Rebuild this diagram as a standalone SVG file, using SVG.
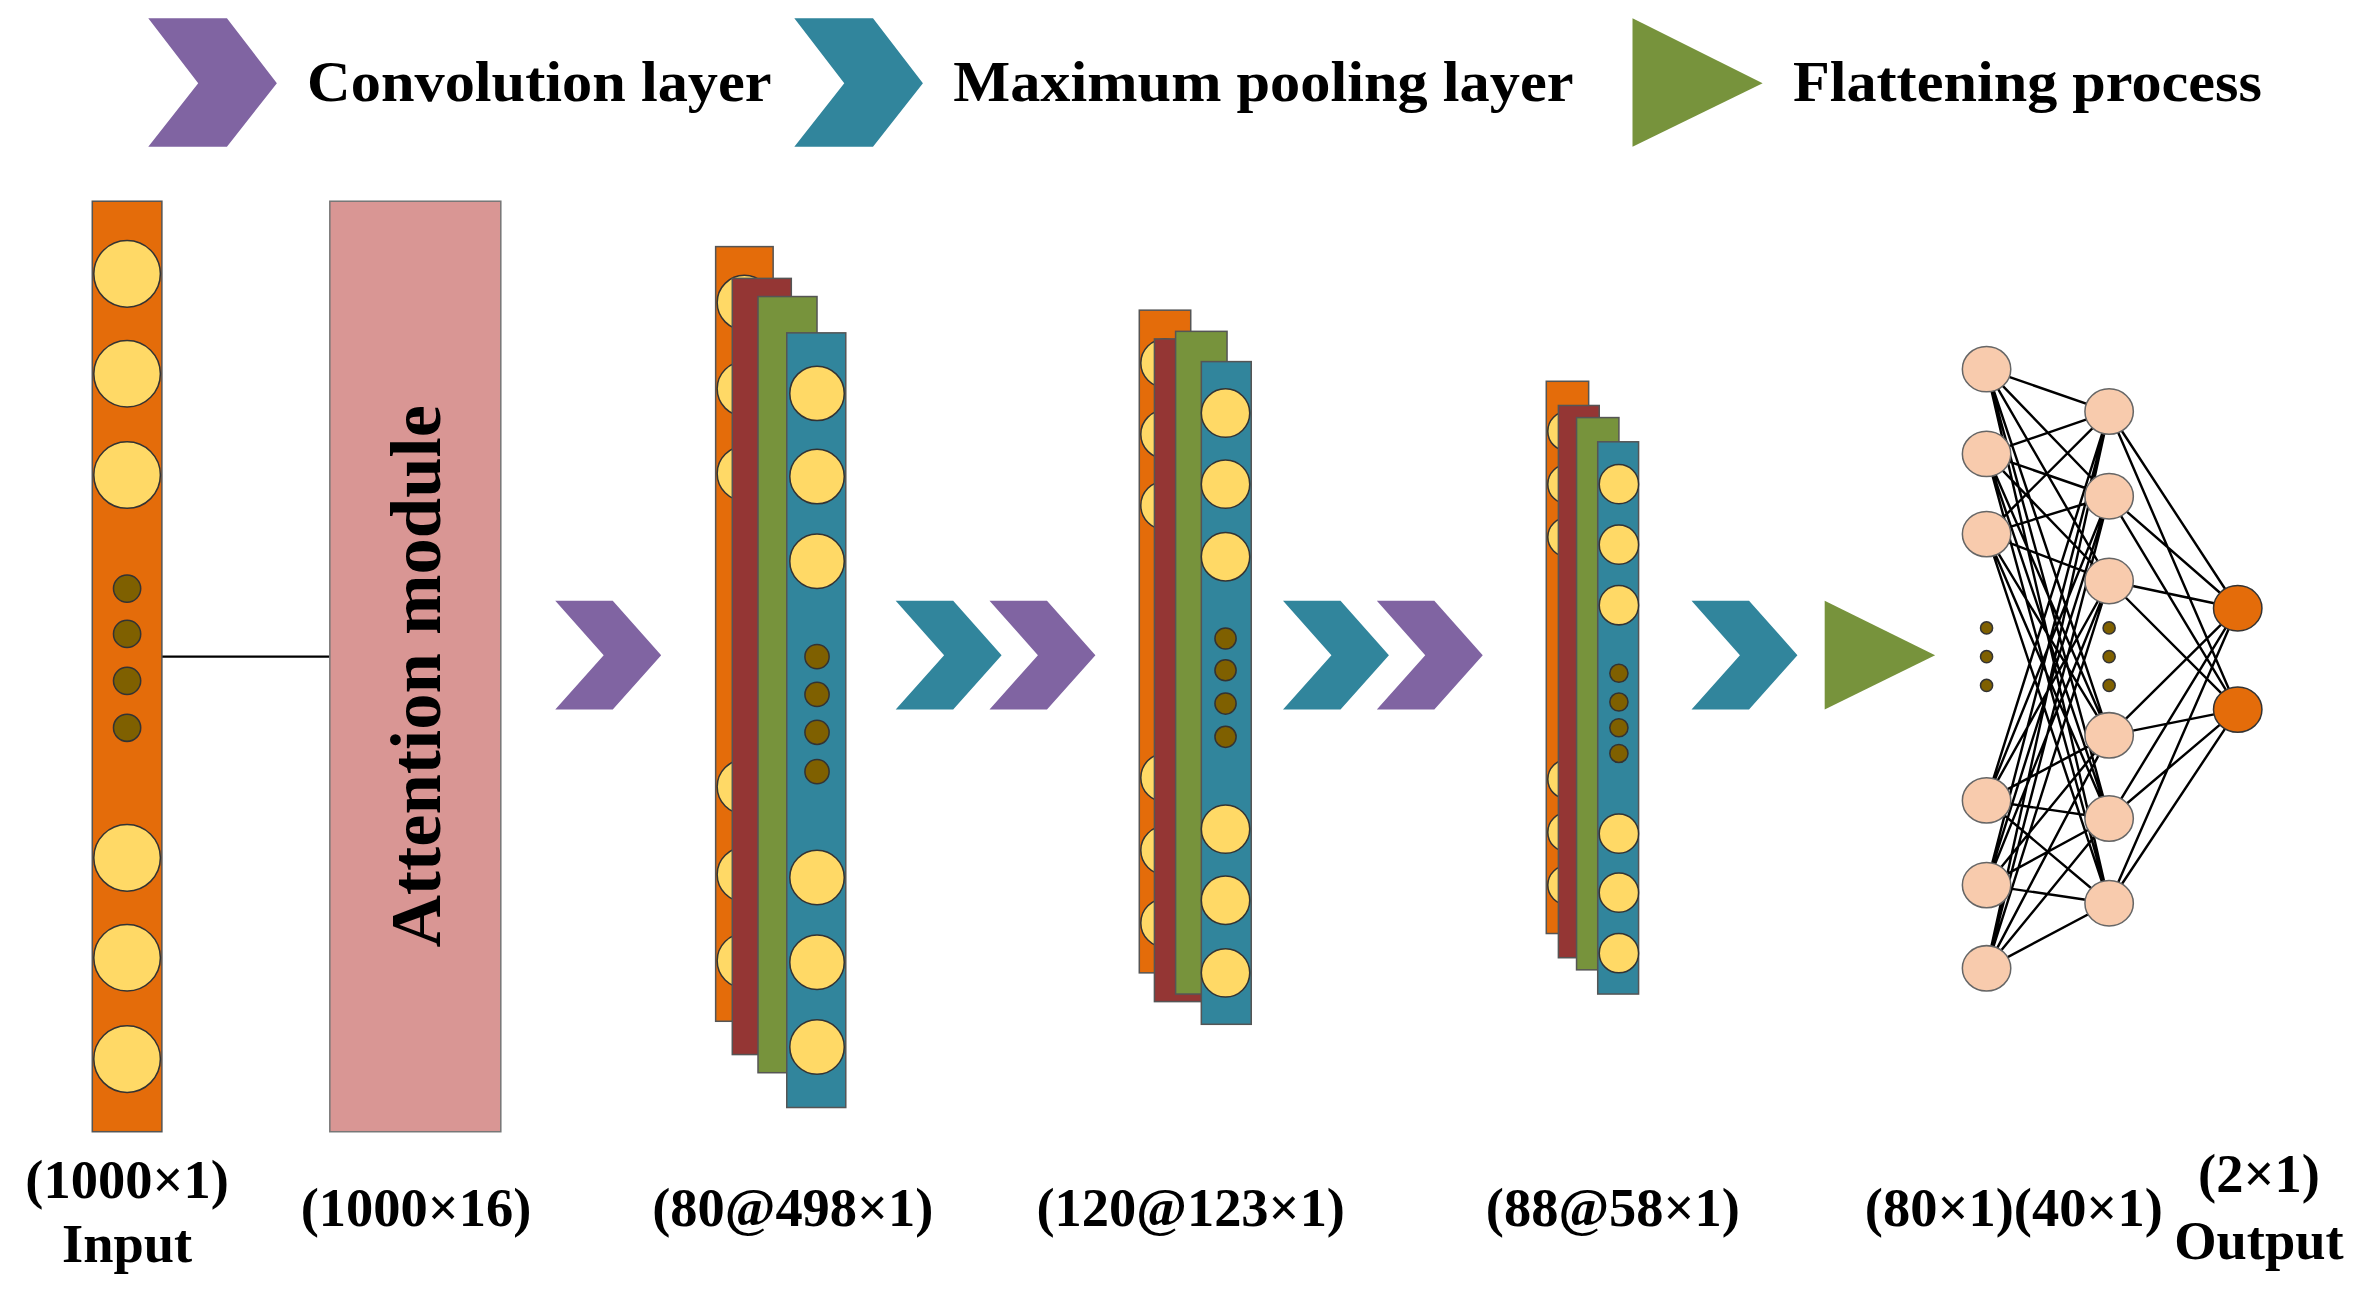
<svg xmlns="http://www.w3.org/2000/svg" width="2372" height="1290" viewBox="0 0 2372 1290">
<style>
.t{font-family:"Liberation Serif","Times New Roman",serif;font-weight:bold;fill:#000}
.lg{font-size:38px}
.lb{font-size:36px;text-anchor:middle}
.y{fill:#FFD966;stroke:#333;stroke-width:1}
.d{fill:#7F6000;stroke:#333;stroke-width:1}
.n{fill:#F8CBAD;stroke:#666;stroke-width:1}
.o{fill:#E46C0A;stroke:#333;stroke-width:1}
.bo{fill:#E46C0A;stroke:#555;stroke-width:1}
.br{fill:#943634;stroke:#555;stroke-width:1}
.bg{fill:#77933C;stroke:#555;stroke-width:1}
.bt{fill:#31859C;stroke:#555;stroke-width:1}
.cp{fill:#8064A2}
.ct{fill:#31859C}
.cg{fill:#77933C}
.w{stroke:#000;stroke-width:1.6}
</style>
<defs>
<path id="chev" d="M0,0 H38 L70,36 L38,72 H0 L32,36 Z"/>
<path id="chevL" d="M0,0 H52 L85,43 L52,85 H0 L33,43 Z"/>
</defs>
<rect width="2372" height="1290" fill="#fff"/>
<g transform="scale(1.513)">
<g id="legend">
<use href="#chevL" x="98" y="12" class="cp"/>
<text class="t lg" x="203" y="67" textLength="307" lengthAdjust="spacingAndGlyphs">Convolution layer</text>
<use href="#chevL" x="525" y="12" class="ct"/>
<text class="t lg" x="630" y="67" textLength="410" lengthAdjust="spacingAndGlyphs">Maximum pooling layer</text>
<polygon class="cg" points="1079,12 1165,55 1079,97"/>
<text class="t lg" x="1185" y="67" textLength="310" lengthAdjust="spacingAndGlyphs">Flattening process</text>
</g>
<g id="connectors">
<line class="w" x1="107" y1="434" x2="218" y2="434"/>
<g id="nn-lines">
<path class="w" fill="none" d="
M1313,244 L1394,272 M1313,244 L1394,328 M1313,244 L1394,384 M1313,244 L1394,486 M1313,244 L1394,541 M1313,244 L1394,597
M1313,300 L1394,272 M1313,300 L1394,328 M1313,300 L1394,384 M1313,300 L1394,486 M1313,300 L1394,541 M1313,300 L1394,597
M1313,353 L1394,272 M1313,353 L1394,328 M1313,353 L1394,384 M1313,353 L1394,486 M1313,353 L1394,541 M1313,353 L1394,597
M1313,529 L1394,272 M1313,529 L1394,328 M1313,529 L1394,384 M1313,529 L1394,486 M1313,529 L1394,541 M1313,529 L1394,597
M1313,585 L1394,272 M1313,585 L1394,328 M1313,585 L1394,384 M1313,585 L1394,486 M1313,585 L1394,541 M1313,585 L1394,597
M1313,640 L1394,272 M1313,640 L1394,328 M1313,640 L1394,384 M1313,640 L1394,486 M1313,640 L1394,541 M1313,640 L1394,597
M1394,272 L1479,402 M1394,328 L1479,402 M1394,384 L1479,402 M1394,486 L1479,402 M1394,541 L1479,402 M1394,597 L1479,402
M1394,272 L1479,469 M1394,328 L1479,469 M1394,384 L1479,469 M1394,486 L1479,469 M1394,541 L1479,469 M1394,597 L1479,469"/>
</g>
</g>
<g id="input">
<rect class="bo" x="61" y="133" width="46" height="615"/>
<circle class="y" cx="84" cy="181" r="22"/><circle class="y" cx="84" cy="247" r="22"/><circle class="y" cx="84" cy="314" r="22"/>
<circle class="d" cx="84" cy="389" r="9"/><circle class="d" cx="84" cy="419" r="9"/><circle class="d" cx="84" cy="450" r="9"/><circle class="d" cx="84" cy="481" r="9"/>
<circle class="y" cx="84" cy="567" r="22"/><circle class="y" cx="84" cy="633" r="22"/><circle class="y" cx="84" cy="700" r="22"/>
</g>
<g id="attention">
<rect x="218" y="133" width="113" height="615" fill="#D99694" stroke="#777"/>
<text class="t" font-size="48" text-anchor="middle" transform="translate(291,447) rotate(-90)">Attention module</text>
</g>
<g id="arrows">
<use href="#chev" x="367" y="397" class="cp"/>
<use href="#chev" x="592" y="397" class="ct"/>
<use href="#chev" x="654" y="397" class="cp"/>
<use href="#chev" x="848" y="397" class="ct"/>
<use href="#chev" x="910" y="397" class="cp"/>
<use href="#chev" x="1118" y="397" class="ct"/>
<polygon class="cg" points="1206,397 1279,433 1206,469"/>
</g>
<g id="conv1">
<rect class="bo" x="473" y="163" width="38" height="512"/>
<circle class="y" cx="492" cy="200" r="18"/><circle class="y" cx="492" cy="257" r="18"/><circle class="y" cx="492" cy="313" r="18"/>
<circle class="y" cx="492" cy="520" r="18"/><circle class="y" cx="492" cy="578" r="18"/><circle class="y" cx="492" cy="635" r="18"/>
<rect class="br" x="484" y="184" width="39" height="513"/>
<rect class="bg" x="501" y="196" width="39" height="513"/>
<rect class="bt" x="520" y="220" width="39" height="512"/>
<circle class="y" cx="540" cy="260" r="18"/><circle class="y" cx="540" cy="315" r="18"/><circle class="y" cx="540" cy="371" r="18"/>
<circle class="d" cx="540" cy="434" r="8"/><circle class="d" cx="540" cy="459" r="8"/><circle class="d" cx="540" cy="484" r="8"/><circle class="d" cx="540" cy="510" r="8"/>
<circle class="y" cx="540" cy="580" r="18"/><circle class="y" cx="540" cy="636" r="18"/><circle class="y" cx="540" cy="692" r="18"/>
</g>
<g id="pool1">
<rect class="bo" x="753" y="205" width="34" height="438"/>
<circle class="y" cx="770" cy="240" r="16"/><circle class="y" cx="770" cy="287" r="16"/><circle class="y" cx="770" cy="334" r="16"/>
<circle class="y" cx="770" cy="514" r="16"/><circle class="y" cx="770" cy="562" r="16"/><circle class="y" cx="770" cy="610" r="16"/>
<rect class="br" x="763" y="224" width="34" height="438"/>
<rect class="bg" x="777" y="219" width="34" height="438"/>
<rect class="bt" x="794" y="239" width="33" height="438"/>
<circle class="y" cx="810" cy="273" r="16"/><circle class="y" cx="810" cy="320" r="16"/><circle class="y" cx="810" cy="368" r="16"/>
<circle class="d" cx="810" cy="422" r="7"/><circle class="d" cx="810" cy="443" r="7"/><circle class="d" cx="810" cy="465" r="7"/><circle class="d" cx="810" cy="487" r="7"/>
<circle class="y" cx="810" cy="548" r="16"/><circle class="y" cx="810" cy="595" r="16"/><circle class="y" cx="810" cy="643" r="16"/>
</g>
<g id="pool2">
<rect class="bo" x="1022" y="252" width="28" height="365"/>
<circle class="y" cx="1036" cy="285" r="13"/><circle class="y" cx="1036" cy="320" r="13"/><circle class="y" cx="1036" cy="355" r="13"/>
<circle class="y" cx="1036" cy="515" r="13"/><circle class="y" cx="1036" cy="550" r="13"/><circle class="y" cx="1036" cy="585" r="13"/>
<rect class="br" x="1030" y="268" width="27" height="365"/>
<rect class="bg" x="1042" y="276" width="28" height="365"/>
<rect class="bt" x="1056" y="292" width="27" height="365"/>
<circle class="y" cx="1070" cy="320" r="13"/><circle class="y" cx="1070" cy="360" r="13"/><circle class="y" cx="1070" cy="400" r="13"/>
<circle class="d" cx="1070" cy="445" r="6"/><circle class="d" cx="1070" cy="464" r="6"/><circle class="d" cx="1070" cy="481" r="6"/><circle class="d" cx="1070" cy="498" r="6"/>
<circle class="y" cx="1070" cy="551" r="13"/><circle class="y" cx="1070" cy="590" r="13"/><circle class="y" cx="1070" cy="630" r="13"/>
</g>
<g id="dense1">
<ellipse class="n" cx="1313" cy="244" rx="16" ry="15"/><ellipse class="n" cx="1313" cy="300" rx="16" ry="15"/><ellipse class="n" cx="1313" cy="353" rx="16" ry="15"/>
<circle class="d" cx="1313" cy="415" r="4"/><circle class="d" cx="1313" cy="434" r="4"/><circle class="d" cx="1313" cy="453" r="4"/>
<ellipse class="n" cx="1313" cy="529" rx="16" ry="15"/><ellipse class="n" cx="1313" cy="585" rx="16" ry="15"/><ellipse class="n" cx="1313" cy="640" rx="16" ry="15"/>
</g>
<g id="dense2">
<ellipse class="n" cx="1394" cy="272" rx="16" ry="15"/><ellipse class="n" cx="1394" cy="328" rx="16" ry="15"/><ellipse class="n" cx="1394" cy="384" rx="16" ry="15"/>
<circle class="d" cx="1394" cy="415" r="4"/><circle class="d" cx="1394" cy="434" r="4"/><circle class="d" cx="1394" cy="453" r="4"/>
<ellipse class="n" cx="1394" cy="486" rx="16" ry="15"/><ellipse class="n" cx="1394" cy="541" rx="16" ry="15"/><ellipse class="n" cx="1394" cy="597" rx="16" ry="15"/>
</g>
<g id="output">
<ellipse class="o" cx="1479" cy="402" rx="16" ry="15"/><ellipse class="o" cx="1479" cy="469" rx="16" ry="15"/>
</g>
<g id="labels">
<text class="t lb" x="84" y="792">(1000×1)</text>
<text class="t lb" x="84" y="834">Input</text>
<text class="t lb" x="275" y="810">(1000×16)</text>
<text class="t lb" x="524" y="810">(80@498×1)</text>
<text class="t lb" x="787" y="810">(120@123×1)</text>
<text class="t lb" x="1066" y="810">(88@58×1)</text>
<text class="t lb" x="1331" y="810">(80×1)(40×1)</text>
<text class="t lb" x="1493" y="788">(2×1)</text>
<text class="t lb" x="1493" y="832">Output</text>
</g>
</g>
</svg>
